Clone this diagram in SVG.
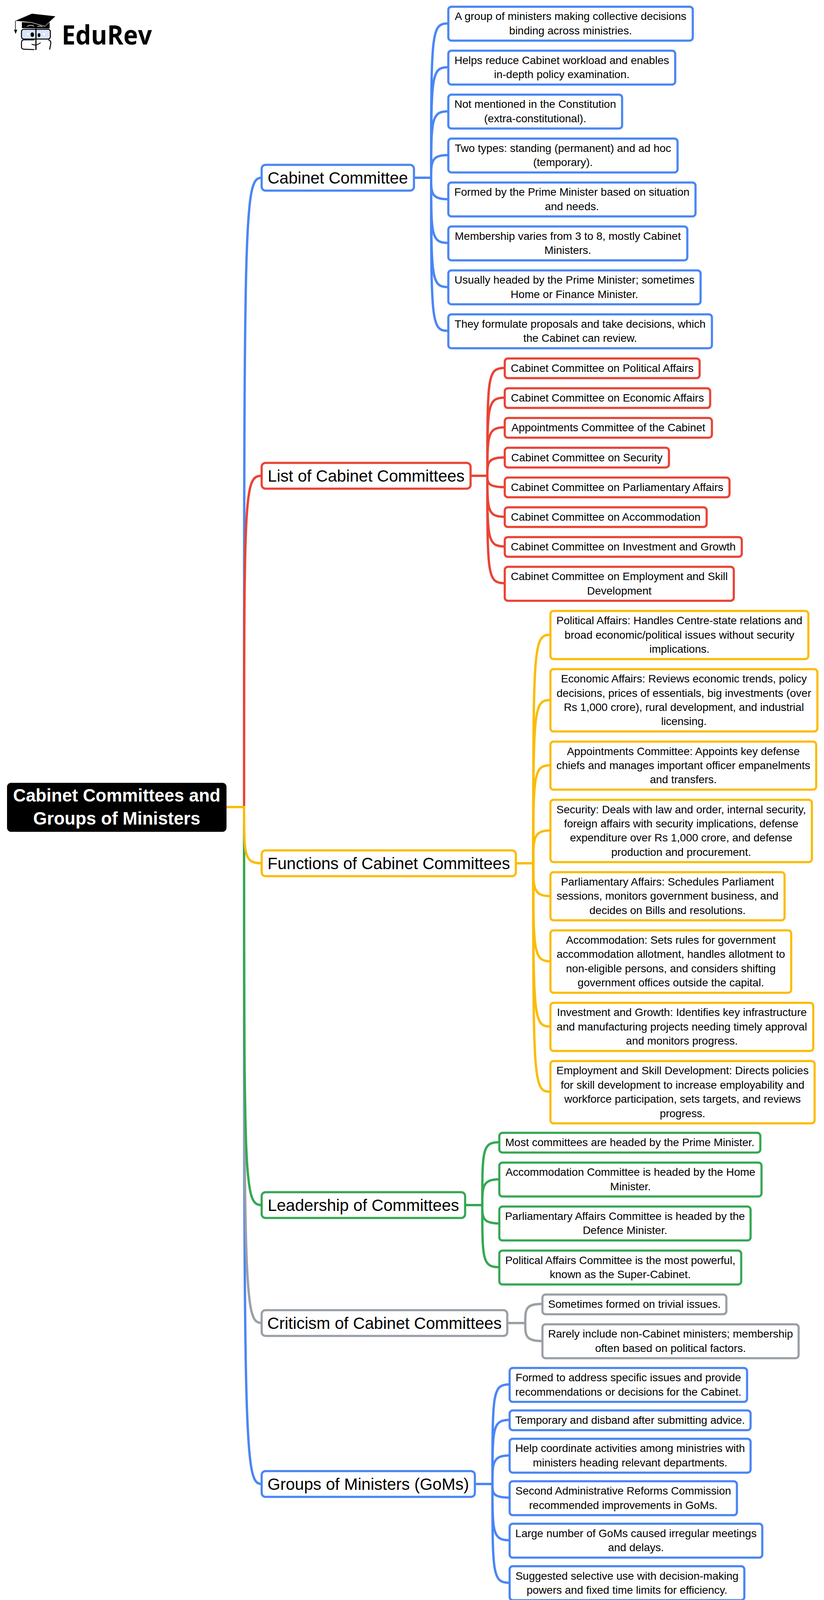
<svg xmlns="http://www.w3.org/2000/svg" width="2110" height="4133" viewBox="0 0 2110 4133">
<style>
text{font-family:"Liberation Sans",Arial,sans-serif;fill:#000;text-anchor:middle}
.l{font-size:28px}
.t{font-size:42px}
.root{font-size:45.300px;font-weight:700;fill:#fff}
rect.n{fill:#fff;stroke-width:5.500}
.blue{stroke:#4A86F5}.red{stroke:#EA4335}.yel{stroke:#FBBC04}.grn{stroke:#34A853}.gry{stroke:#9AA0A6}
#connectors path{fill:none;stroke-width:6;stroke-linecap:round}
</style>
<g id="connectors">
<g id="c-cabinet">
<path class="blue" d="M580 2066H625C625 536 625 455 670 455"/>
<path class="blue" d="M1060 455H1104C1104 80 1104 60 1148 60"/>
<path class="blue" d="M1060 455H1104C1104 192 1104 172 1148 172"/>
<path class="blue" d="M1060 455H1104C1104 305 1104 285 1148 285"/>
<path class="blue" d="M1060 455H1104C1104 414 1104 397 1148 397"/>
<path class="blue" d="M1060 455H1104C1104 494 1104 510 1148 510"/>
<path class="blue" d="M1060 455H1104C1104 602 1104 622 1148 622"/>
<path class="blue" d="M1060 455H1104C1104 715 1104 735 1148 735"/>
<path class="blue" d="M1060 455H1104C1104 827 1104 847 1148 847"/>
</g>
<g id="c-list">
<path class="red" d="M580 2066H625C625 1260 625 1218 670 1218"/>
<path class="red" d="M1205 1218H1248C1248 962 1248 942 1292.500 942"/>
<path class="red" d="M1205 1218H1248C1248 1038 1248 1018 1292.500 1018"/>
<path class="red" d="M1205 1218H1248C1248 1114 1248 1094 1292.500 1094"/>
<path class="red" d="M1205 1218H1248C1248 1185 1248 1171 1292.500 1171"/>
<path class="red" d="M1205 1218H1248C1248 1235 1248 1247 1292.500 1247"/>
<path class="red" d="M1205 1218H1248C1248 1305 1248 1323 1292.500 1323"/>
<path class="red" d="M1205 1218H1248C1248 1379 1248 1399 1292.500 1399"/>
<path class="red" d="M1205 1218H1248C1248 1473 1248 1493 1292.500 1493"/>
</g>
<g id="c-groups">
<path class="blue" d="M580 2066H625C625 3712 625 3799 670 3799"/>
<path class="blue" d="M1216 3799H1261C1261 3564 1261 3544 1305 3544"/>
<path class="blue" d="M1216 3799H1261C1261 3655 1261 3635 1305 3635"/>
<path class="blue" d="M1216 3799H1261C1261 3745 1261 3726 1305 3726"/>
<path class="blue" d="M1216 3799H1261C1261 3822 1261 3834 1305 3834"/>
<path class="blue" d="M1216 3799H1261C1261 3923 1261 3943 1305 3943"/>
<path class="blue" d="M1216 3799H1261C1261 4032 1261 4052 1305 4052"/>
</g>
<g id="c-criticism">
<path class="gry" d="M580 2066H625C625 3321 625 3387 670 3387"/>
<path class="gry" d="M1299 3387H1345C1345 3352 1345 3338 1389 3338"/>
<path class="gry" d="M1299 3387H1345C1345 3419 1345 3433 1389 3433"/>
</g>
<g id="c-leadership">
<path class="grn" d="M580 2066H625C625 3034 625 3085 670 3085"/>
<path class="grn" d="M1191 3085H1235C1235 2944 1235 2924 1278.600 2924"/>
<path class="grn" d="M1191 3085H1235C1235 3039 1235 3019 1278.600 3019"/>
<path class="grn" d="M1191 3085H1235C1235 3117 1235 3132 1278.600 3132"/>
<path class="grn" d="M1191 3085H1235C1235 3224 1235 3244 1278.600 3244"/>
</g>
<g id="c-functions">
<path class="yel" d="M580 2066H625C625 2190 625 2210 670 2210"/>
<path class="yel" d="M1321 2210H1365.500C1365.500 1650 1365.500 1625 1409.500 1625"/>
<path class="yel" d="M1321 2210H1365.500C1365.500 1817 1365.500 1792 1409.500 1792"/>
<path class="yel" d="M1321 2210H1365.500C1365.500 1984 1365.500 1959 1409.500 1959"/>
<path class="yel" d="M1321 2210H1365.500C1365.500 2146 1365.500 2126 1409.500 2126"/>
<path class="yel" d="M1321 2210H1365.500C1365.500 2274 1365.500 2294 1409.500 2294"/>
<path class="yel" d="M1321 2210H1365.500C1365.500 2436 1365.500 2461 1409.500 2461"/>
<path class="yel" d="M1321 2210H1365.500C1365.500 2603 1365.500 2628 1409.500 2628"/>
<path class="yel" d="M1321 2210H1365.500C1365.500 2770 1365.500 2795 1409.500 2795"/>
</g>
</g>
<g id="logo">
<polygon points="39.300,53.300 81.700,35 141.700,41.700 115,66.700 80,56.700" fill="#000"/>
<polygon points="56,56.700 80,58 115,68 127,57 127,73 56,72" fill="#000"/>
<path d="M39.500 53V76" stroke="#000" stroke-width="1.500" fill="none"/>
<path d="M36 76H44L40 87Z" fill="#000"/>
<path d="M69 68Q77 62 87 67M96 68Q103 65 109 69" stroke="#fff" stroke-width="1.500" fill="none"/>
<rect x="55" y="75" width="74" height="25" rx="6" fill="#D8E5FB" stroke="#000" stroke-width="2.500"/>
<path d="M92 73V128" stroke="#000" stroke-width="3" fill="none"/>
<ellipse cx="82.700" cy="88.700" rx="4.500" ry="6" fill="#000"/>
<ellipse cx="100" cy="90" rx="3.500" ry="5" fill="#000"/>
<rect x="69" y="85" width="5" height="5" fill="#fff"/>
<rect x="110" y="85" width="5" height="5" fill="#fff"/>
<path d="M88 102H62Q55 102 55 109V120Q55 126 62 126L88 127M124 102Q131 104 130 112L127 127" stroke="#000" stroke-width="2.500" fill="none"/>
<path d="M81 113Q92 119 104 109" stroke="#000" stroke-width="2" fill="none"/>
<text x="158" y="114" textLength="231" lengthAdjust="spacingAndGlyphs" style="font-family:'Open Sans',sans-serif;font-size:68px;font-weight:700;text-anchor:start">EduRev</text>
</g>
<g id="root">
<rect x="18" y="2004" width="562" height="125.500" rx="10" fill="#000"/>
<text class="root"><tspan x="299" y="2052">Cabinet Committees and</tspan><tspan x="299" y="2111">Groups of Ministers</tspan></text>
</g>
<g id="n-cabinet">
<rect class="n blue" x="670" y="422" width="390" height="66" rx="10"/>
<text class="t" x="865" y="470">Cabinet Committee</text>
</g>
<g id="cc1"><rect class="n blue" x="1148" y="17.200" width="626" height="86.800" rx="8"/><text class="l"><tspan x="1461" y="51.400">A group of ministers making collective decisions</tspan><tspan x="1461" y="87.800">binding across ministries.</tspan></text></g>
<g id="cc2"><rect class="n blue" x="1148" y="129.700" width="581" height="86.800" rx="8"/><text class="l"><tspan x="1438.500" y="163.900">Helps reduce Cabinet workload and enables</tspan><tspan x="1438.500" y="200.300">in-depth policy examination.</tspan></text></g>
<g id="cc3"><rect class="n blue" x="1148" y="242.200" width="445" height="86.800" rx="8"/><text class="l"><tspan x="1370.500" y="276.400">Not mentioned in the Constitution</tspan><tspan x="1370.500" y="312.800">(extra-constitutional).</tspan></text></g>
<g id="cc4"><rect class="n blue" x="1148" y="354.700" width="587" height="86.800" rx="8"/><text class="l"><tspan x="1441.500" y="388.900">Two types: standing (permanent) and ad hoc</tspan><tspan x="1441.500" y="425.300">(temporary).</tspan></text></g>
<g id="cc5"><rect class="n blue" x="1148" y="467.200" width="633" height="86.800" rx="8"/><text class="l"><tspan x="1464.500" y="501.400">Formed by the Prime Minister based on situation</tspan><tspan x="1464.500" y="537.800">and needs.</tspan></text></g>
<g id="cc6"><rect class="n blue" x="1148" y="579.700" width="612" height="86.800" rx="8"/><text class="l"><tspan x="1454" y="613.900">Membership varies from 3 to 8, mostly Cabinet</tspan><tspan x="1454" y="650.300">Ministers.</tspan></text></g>
<g id="cc7"><rect class="n blue" x="1148" y="692.200" width="646" height="86.800" rx="8"/><text class="l"><tspan x="1471" y="726.400">Usually headed by the Prime Minister; sometimes</tspan><tspan x="1471" y="762.800">Home or Finance Minister.</tspan></text></g>
<g id="cc8"><rect class="n blue" x="1148" y="804.700" width="675" height="86.800" rx="8"/><text class="l"><tspan x="1485.500" y="838.900">They formulate proposals and take decisions, which</tspan><tspan x="1485.500" y="875.300">the Cabinet can review.</tspan></text></g>
<g id="n-list">
<rect class="n red" x="670" y="1185" width="535" height="66" rx="10"/>
<text class="t" x="937.500" y="1233">List of Cabinet Committees</text>
</g>
<g id="lc1"><rect class="n red" x="1292.500" y="917.700" width="499" height="50.400" rx="8"/><text class="l" x="1542" y="951.900">Cabinet Committee on Political Affairs</text></g>
<g id="lc2"><rect class="n red" x="1292.500" y="993.900" width="526" height="50.400" rx="8"/><text class="l" x="1555.500" y="1028.100">Cabinet Committee on Economic Affairs</text></g>
<g id="lc3"><rect class="n red" x="1292.500" y="1070.100" width="530.500" height="50.400" rx="8"/><text class="l" x="1557.750" y="1104.300">Appointments Committee of the Cabinet</text></g>
<g id="lc4"><rect class="n red" x="1292.500" y="1146.300" width="420.500" height="50.400" rx="8"/><text class="l" x="1502.750" y="1180.500">Cabinet Committee on Security</text></g>
<g id="lc5"><rect class="n red" x="1292.500" y="1222.500" width="575.500" height="50.400" rx="8"/><text class="l" x="1580.250" y="1256.700">Cabinet Committee on Parliamentary Affairs</text></g>
<g id="lc6"><rect class="n red" x="1292.500" y="1298.700" width="517" height="50.400" rx="8"/><text class="l" x="1551" y="1332.900">Cabinet Committee on Accommodation</text></g>
<g id="lc7"><rect class="n red" x="1292.500" y="1374.900" width="607" height="50.400" rx="8"/><text class="l" x="1596" y="1409.100">Cabinet Committee on Investment and Growth</text></g>
<g id="lc8"><rect class="n red" x="1292.500" y="1451.100" width="586.500" height="86.800" rx="8"/><text class="l"><tspan x="1585.750" y="1485.300">Cabinet Committee on Employment and Skill</tspan><tspan x="1585.750" y="1521.700">Development</tspan></text></g>
<g id="n-functions">
<rect class="n yel" x="670" y="2177" width="651" height="66" rx="10"/>
<text class="t" x="995.500" y="2225">Functions of Cabinet Committees</text>
</g>
<g id="fn1"><rect class="n yel" x="1409.500" y="1564" width="660.500" height="123.200" rx="8"/><text class="l"><tspan x="1739.750" y="1598.200">Political Affairs: Handles Centre-state relations and</tspan><tspan x="1739.750" y="1634.600">broad economic/political issues without security</tspan><tspan x="1739.750" y="1671">implications.</tspan></text></g>
<g id="fn2"><rect class="n yel" x="1409.500" y="1713" width="683.500" height="159.600" rx="8"/><text class="l"><tspan x="1751.250" y="1747.200">Economic Affairs: Reviews economic trends, policy</tspan><tspan x="1751.250" y="1783.600">decisions, prices of essentials, big investments (over</tspan><tspan x="1751.250" y="1820">Rs 1,000 crore), rural development, and industrial</tspan><tspan x="1751.250" y="1856.400">licensing.</tspan></text></g>
<g id="fn3"><rect class="n yel" x="1409.500" y="1898.400" width="680.500" height="123.200" rx="8"/><text class="l"><tspan x="1749.750" y="1932.600">Appointments Committee: Appoints key defense</tspan><tspan x="1749.750" y="1969">chiefs and manages important officer empanelments</tspan><tspan x="1749.750" y="2005.400">and transfers.</tspan></text></g>
<g id="fn4"><rect class="n yel" x="1409.500" y="2047.400" width="669.500" height="159.600" rx="8"/><text class="l"><tspan x="1744.250" y="2081.600">Security: Deals with law and order, internal security,</tspan><tspan x="1744.250" y="2118">foreign affairs with security implications, defense</tspan><tspan x="1744.250" y="2154.400">expenditure over Rs 1,000 crore, and defense</tspan><tspan x="1744.250" y="2190.800">production and procurement.</tspan></text></g>
<g id="fn5"><rect class="n yel" x="1409.500" y="2232.800" width="599.500" height="123.200" rx="8"/><text class="l"><tspan x="1709.250" y="2267">Parliamentary Affairs: Schedules Parliament</tspan><tspan x="1709.250" y="2303.400">sessions, monitors government business, and</tspan><tspan x="1709.250" y="2339.800">decides on Bills and resolutions.</tspan></text></g>
<g id="fn6"><rect class="n yel" x="1409.500" y="2381.800" width="616.500" height="159.600" rx="8"/><text class="l"><tspan x="1717.750" y="2416">Accommodation: Sets rules for government</tspan><tspan x="1717.750" y="2452.400">accommodation allotment, handles allotment to</tspan><tspan x="1717.750" y="2488.800">non-eligible persons, and considers shifting</tspan><tspan x="1717.750" y="2525.200">government offices outside the capital.</tspan></text></g>
<g id="fn7"><rect class="n yel" x="1409.500" y="2567.200" width="673" height="123.200" rx="8"/><text class="l"><tspan x="1746" y="2601.400">Investment and Growth: Identifies key infrastructure</tspan><tspan x="1746" y="2637.800">and manufacturing projects needing timely approval</tspan><tspan x="1746" y="2674.200">and monitors progress.</tspan></text></g>
<g id="fn8"><rect class="n yel" x="1409.500" y="2716.200" width="676.500" height="159.600" rx="8"/><text class="l"><tspan x="1747.750" y="2750.400">Employment and Skill Development: Directs policies</tspan><tspan x="1747.750" y="2786.800">for skill development to increase employability and</tspan><tspan x="1747.750" y="2823.200">workforce participation, sets targets, and reviews</tspan><tspan x="1747.750" y="2859.600">progress.</tspan></text></g>
<g id="n-leadership">
<rect class="n grn" x="670" y="3052" width="521" height="66" rx="10"/>
<text class="t" x="930.500" y="3100">Leadership of Committees</text>
</g>
<g id="ld1"><rect class="n grn" x="1278.600" y="2900" width="668.400" height="50.400" rx="8"/><text class="l" x="1612.800" y="2934.200">Most committees are headed by the Prime Minister.</text></g>
<g id="ld2"><rect class="n grn" x="1278.600" y="2976.200" width="671.400" height="86.800" rx="8"/><text class="l"><tspan x="1614.300" y="3010.400">Accommodation Committee is headed by the Home</tspan><tspan x="1614.300" y="3046.800">Minister.</tspan></text></g>
<g id="ld3"><rect class="n grn" x="1278.600" y="3088.800" width="643.400" height="86.800" rx="8"/><text class="l"><tspan x="1600.300" y="3123">Parliamentary Affairs Committee is headed by the</tspan><tspan x="1600.300" y="3159.400">Defence Minister.</tspan></text></g>
<g id="ld4"><rect class="n grn" x="1278.600" y="3201.400" width="619.400" height="86.800" rx="8"/><text class="l"><tspan x="1588.300" y="3235.600">Political Affairs Committee is the most powerful,</tspan><tspan x="1588.300" y="3272">known as the Super-Cabinet.</tspan></text></g>
<g id="n-criticism">
<rect class="n gry" x="670" y="3354" width="629" height="66" rx="10"/>
<text class="t" x="984.500" y="3402">Criticism of Cabinet Committees</text>
</g>
<g id="cr1"><rect class="n gry" x="1389" y="3314" width="471" height="50.400" rx="8"/><text class="l" x="1624.500" y="3348.200">Sometimes formed on trivial issues.</text></g>
<g id="cr2"><rect class="n gry" x="1389" y="3390.200" width="656" height="86.800" rx="8"/><text class="l"><tspan x="1717" y="3424.400">Rarely include non-Cabinet ministers; membership</tspan><tspan x="1717" y="3460.800">often based on political factors.</tspan></text></g>
<g id="n-groups">
<rect class="n blue" x="670" y="3766" width="546" height="66" rx="10"/>
<text class="t" x="943" y="3814">Groups of Ministers (GoMs)</text>
</g>
<g id="gm1"><rect class="n blue" x="1305" y="3502" width="608" height="86.800" rx="8"/><text class="l"><tspan x="1609" y="3536.200">Formed to address specific issues and provide</tspan><tspan x="1609" y="3572.600">recommendations or decisions for the Cabinet.</tspan></text></g>
<g id="gm2"><rect class="n blue" x="1305" y="3610.800" width="617" height="50.400" rx="8"/><text class="l" x="1613.500" y="3645">Temporary and disband after submitting advice.</text></g>
<g id="gm3"><rect class="n blue" x="1305" y="3683.200" width="617" height="86.800" rx="8"/><text class="l"><tspan x="1613.500" y="3717.400">Help coordinate activities among ministries with</tspan><tspan x="1613.500" y="3753.800">ministers heading relevant departments.</tspan></text></g>
<g id="gm4"><rect class="n blue" x="1305" y="3792" width="582" height="86.800" rx="8"/><text class="l"><tspan x="1596" y="3826.200">Second Administrative Reforms Commission</tspan><tspan x="1596" y="3862.600">recommended improvements in GoMs.</tspan></text></g>
<g id="gm5"><rect class="n blue" x="1305" y="3900.800" width="647" height="86.800" rx="8"/><text class="l"><tspan x="1628.500" y="3935">Large number of GoMs caused irregular meetings</tspan><tspan x="1628.500" y="3971.400">and delays.</tspan></text></g>
<g id="gm6"><rect class="n blue" x="1305" y="4009.600" width="601" height="86.800" rx="8"/><text class="l"><tspan x="1605.500" y="4043.800">Suggested selective use with decision-making</tspan><tspan x="1605.500" y="4080.200">powers and fixed time limits for efficiency.</tspan></text></g>
</svg>
